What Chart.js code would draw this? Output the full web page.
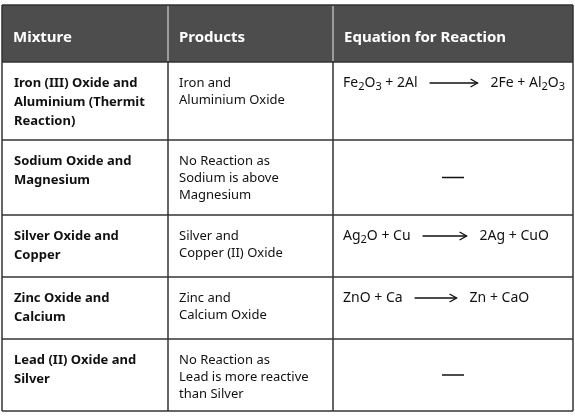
<!DOCTYPE html>
<html>
<head>
<meta charset="utf-8">
<script src="https://cdn.jsdelivr.net/npm/chart.js@4"></script>
<style>
  html, body { margin: 0; padding: 0; background: #fff; }
  #wrap { width: 575px; height: 416px; }
</style>
</head>
<body>
<div id="wrap"><canvas id="tbl" width="575" height="416"></canvas></div>
<script>
// table content
const headers = ['Mixture', 'Products', 'Equation for Reaction'];
const mixtures = [
  ['Iron (III) Oxide and', 'Aluminium (Thermit', 'Reaction)'],
  ['Sodium Oxide and', 'Magnesium'],
  ['Silver Oxide and', 'Copper'],
  ['Zinc Oxide and', 'Calcium'],
  ['Lead (II) Oxide and', 'Silver']
];
const products = [
  ['Iron and', 'Aluminium Oxide'],
  ['No Reaction as', 'Sodium is above', 'Magnesium'],
  ['Silver and', 'Copper (II) Oxide'],
  ['Zinc and', 'Calcium Oxide'],
  ['No Reaction as', 'Lead is more reactive', 'than Silver']
];
// equation: [reactants, products] ; null = no reaction; _n = subscript
const equations = [
  ['Fe_2O_3 + 2Al', '2Fe + Al_2O_3'],
  null,
  ['Ag_2O + Cu', '2Ag + CuO'],
  ['ZnO + Ca', 'Zn + CaO'],
  null
];

// grid geometry (in axis units = px)
const colEdges = [2, 168, 333, 573];
const rowEdges = [5, 62, 140, 215, 277, 339, 411];
const arrowLen = [48, 44, 42];

const FONT = '"Noto Sans", sans-serif';

function drawChem(ctx, text, x, y, size) {
  let cx = x;
  const parts = text.split(/(_\d)/);
  parts.forEach(p => {
    if (p.startsWith('_')) {
      ctx.font = `${size - 3}px ${FONT}`;
      ctx.fillText(p.slice(1), cx, y + 4);
      cx += ctx.measureText(p.slice(1)).width;
    } else {
      ctx.font = `${size}px ${FONT}`;
      ctx.fillText(p, cx, y);
      cx += ctx.measureText(p).width;
    }
  });
  return cx;
}

const tablePlugin = {
  id: 'tablePlugin',
  afterDraw(chart) {
    const ctx = chart.ctx;
    const X = v => chart.scales.x.getPixelForValue(v);
    const Y = v => chart.scales.y.getPixelForValue(v);
    ctx.save();
    // header background
    ctx.fillStyle = '#4d4d4d';
    ctx.fillRect(X(colEdges[0]), Y(rowEdges[0]), X(colEdges[3]) - X(colEdges[0]), Y(rowEdges[1]) - Y(rowEdges[0]));
    // grid lines
    ctx.strokeStyle = '#333';
    ctx.lineWidth = 1.5;
    rowEdges.forEach(r => {
      ctx.beginPath(); ctx.moveTo(X(colEdges[0]), Y(r)); ctx.lineTo(X(colEdges[3]), Y(r)); ctx.stroke();
    });
    colEdges.forEach(c => {
      ctx.beginPath(); ctx.moveTo(X(c), Y(rowEdges[0])); ctx.lineTo(X(c), Y(rowEdges[6])); ctx.stroke();
    });
    ctx.strokeStyle = '#fff';
    ctx.lineWidth = 1;
    [colEdges[1], colEdges[2]].forEach(c => {
      ctx.beginPath(); ctx.moveTo(X(c), Y(rowEdges[0]) + 1); ctx.lineTo(X(c), Y(rowEdges[1]) - 1); ctx.stroke();
    });
    // header text
    ctx.textBaseline = 'middle';
    ctx.fillStyle = '#fff';
    ctx.font = `bold 15px ${FONT}`;
    headers.forEach((h, i) => {
      ctx.fillText(h, X(colEdges[i]) + 11, (Y(rowEdges[0]) + Y(rowEdges[1])) / 2 + 4);
    });
    // body
    ctx.fillStyle = '#111';
    for (let r = 0; r < mixtures.length; r++) {
      const top = Y(rowEdges[r + 1]);
      const mid = (top + Y(rowEdges[r + 2])) / 2;
      ctx.font = `bold 13px ${FONT}`;
      mixtures[r].forEach((t, k) => ctx.fillText(t, X(colEdges[0]) + 12, top + 21 + k * 19));
      ctx.font = `13px ${FONT}`;
      products[r].forEach((t, k) => ctx.fillText(t, X(colEdges[1]) + 11, top + 21 + k * 17));
      const eq = equations[r];
      if (eq) {
        const y = top + 21;
        let cx = drawChem(ctx, eq[0], X(colEdges[2]) + 10, y, 14);
        const a0 = cx + 12, a1 = a0 + arrowLen[[0, 2, 3].indexOf(r)];
        ctx.strokeStyle = '#111'; ctx.lineWidth = 1.3;
        ctx.beginPath(); ctx.moveTo(a0, y); ctx.lineTo(a1, y); ctx.stroke();
        ctx.beginPath(); ctx.moveTo(a1 - 7, y - 4); ctx.lineTo(a1, y); ctx.lineTo(a1 - 7, y + 4); ctx.stroke();
        drawChem(ctx, eq[1], a1 + 13, y, 14);
      } else {
        const cxm = (X(colEdges[2]) + X(colEdges[3])) / 2;
        ctx.strokeStyle = '#111'; ctx.lineWidth = 1.5;
        ctx.beginPath(); ctx.moveTo(cxm - 11, mid); ctx.lineTo(cxm + 11, mid); ctx.stroke();
      }
    }
    ctx.restore();
  }
};

new Chart(document.getElementById('tbl').getContext('2d'), {
  type: 'scatter',
  data: { datasets: [{ data: [] }] },
  options: {
    responsive: false,
    animation: false,
    layout: { padding: 0 },
    plugins: { legend: { display: false }, tooltip: { enabled: false } },
    scales: {
      x: { type: 'linear', min: 0, max: 575, display: false },
      y: { type: 'linear', min: 0, max: 416, reverse: true, display: false }
    }
  },
  plugins: [tablePlugin]
});
</script>
</body>
</html>
